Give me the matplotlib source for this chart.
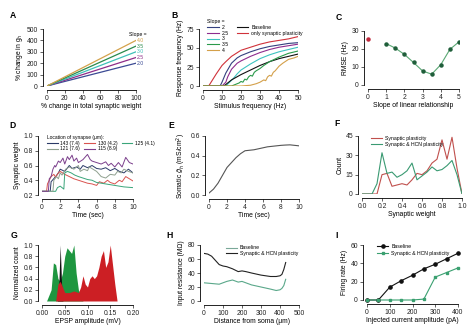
import numpy as np
import matplotlib
matplotlib.use("Agg")
import matplotlib.pyplot as plt
from matplotlib.lines import Line2D

plt.rcParams['font.family'] = ['Liberation Sans', 'DejaVu Sans']

# ---- A: % change in gh vs % change in synaptic weight
a_slopes = ['2.0', '2.5', '3.0', '3.5', '4.0']
a_x = [0, 100]
a_end = [200, 250, 300, 350, 400]
a_colors = ['#3b4a94', '#8e2c88', '#3fc0b8', '#2a8a4c', '#d4a24c']

# ---- B: response vs stimulus frequency
b_series = {
    'only synaptic plasticity': ([0, 3, 5, 7, 10, 12, 15, 20, 25, 30, 35, 40, 45, 50],
                                 [0, 0, 8, 16, 27, 32, 39, 47, 51, 55, 58, 60, 62, 65]),
    '2': ([0, 9, 10, 12, 15, 18, 20, 25, 30, 35, 40, 45, 50],
          [0, 0, 5, 17, 30, 37, 40, 45, 49, 52, 54, 56, 57]),
    '2.5': ([0, 10, 12, 13, 15, 18, 20, 25, 30, 35, 40, 45, 50],
            [0, 0, 5, 12, 22, 30, 33, 39, 44, 48, 51, 53, 55]),
    '3': ([0, 12, 14, 16, 18, 20, 25, 30, 35, 40, 45, 50],
          [0, 0, 5, 10, 16, 21, 29, 36, 41, 45, 48, 51]),
    'Baseline': ([0, 11, 13, 15, 20, 25, 30, 35, 40, 45, 50],
                 [0, 0, 4, 8, 15, 21, 27, 32, 36, 39, 42]),
    '3.5': ([0, 15, 17, 19, 20, 21, 22, 23, 24, 25, 26, 27, 28, 30, 32, 35, 40, 45, 50],
            [0, 0, 2, 4, 6, 5, 9, 8, 12, 14, 13, 18, 20, 23, 27, 32, 38, 43, 46]),
    '4': ([0, 20, 25, 28, 30, 32, 33, 34, 35, 36, 37, 38, 40, 42, 45, 48, 50],
          [0, 0, 1, 3, 5, 8, 7, 12, 14, 13, 18, 20, 26, 30, 35, 37, 39]),
}
b_colors = {'2': '#34407f', '2.5': '#8e2c8e', '3': '#3cc3c0', '3.5': '#2a9a4a',
            '4': '#d4a04a', 'Baseline': '#111111', 'only synaptic plasticity': '#d0323a'}

# ---- C: RMSE vs slope
c_base_x, c_base_y = 0, 25.5
c_slopes = [1, 1.5, 2, 2.5, 3, 3.5, 4, 4.5, 5]
c_rmse = [23, 20.5, 17, 12.5, 7.8, 6, 11.3, 19.8, 24]

# ---- D: synaptic weight traces
d_labels = ['143 (7.4)', '130 (4.2)', '125 (4.1)', '121 (7.6)', '115 (8.9)']
d_colors = ['#2b3a67', '#d9534f', '#3aa57a', '#8fa08f', '#7b3f8c']
d_t = [
    [0, 0.9, 1.0, 1.5, 1.8, 2, 2.5, 3, 3.3, 3.8, 4.2, 4.5, 5, 5.5, 6, 6.5, 7, 7.5, 8, 8.5, 9, 9.5, 10],
    [0, 0.5, 0.6, 1.0, 1.3, 1.5, 1.8, 2.0, 2.5, 3, 3.5, 4, 4.5, 5, 5.5, 6, 6.3, 6.8, 7.2, 7.5, 8, 8.5, 8.8, 9.2, 9.6, 10],
    [0, 1.5, 1.7, 2.0, 2.4, 2.5, 2.8, 3.2, 3.6, 4, 4.5, 5, 5.5, 6, 6.5, 7, 7.5, 8, 8.5, 9, 10],
    [0, 1.2, 1.3, 1.6, 1.8, 2.0, 2.2, 2.6, 3.0, 3.5, 4, 4.2, 4.6, 5, 5.2, 5.6, 6, 6.5, 7, 7.5, 8, 8.3, 8.7, 9, 9.5, 10],
    [0, 0.7, 0.8, 1.0, 1.2, 1.4, 1.5, 1.8, 2.0, 2.3, 2.5, 2.8, 3.0, 3.3, 3.5, 3.8, 4.0, 4.5, 5.0, 5.3, 5.5, 6.0, 6.5, 7.0, 7.3, 7.6, 8.0, 8.4, 8.8, 9.2, 9.6, 10],
]
d_w = [
    [0.25, 0.25, 0.38, 0.45, 0.5, 0.55, 0.52, 0.6, 0.56, 0.58, 0.55, 0.6, 0.57, 0.6, 0.56, 0.55, 0.57, 0.53, 0.56, 0.52, 0.5, 0.55, 0.5],
    [0.25, 0.25, 0.35, 0.45, 0.48, 0.44, 0.5, 0.52, 0.48, 0.45, 0.42, 0.4, 0.38, 0.36, 0.35, 0.33, 0.38, 0.36, 0.4, 0.37, 0.35, 0.4, 0.38, 0.45, 0.42, 0.39],
    [0.25, 0.25, 0.3, 0.32, 0.28, 0.5, 0.52, 0.5, 0.47, 0.45, 0.43, 0.41, 0.4, 0.37, 0.36, 0.35, 0.34, 0.33, 0.32, 0.31, 0.3],
    [0.25, 0.25, 0.4, 0.45, 0.42, 0.5, 0.47, 0.55, 0.58, 0.55, 0.6, 0.52, 0.55, 0.53, 0.58, 0.55, 0.52, 0.45, 0.43, 0.48, 0.47, 0.52, 0.5, 0.55, 0.52, 0.5],
    [0.25, 0.25, 0.42, 0.45, 0.55, 0.6, 0.58, 0.66, 0.64, 0.7, 0.62, 0.72, 0.68, 0.74, 0.66, 0.7, 0.64, 0.68, 0.75, 0.68, 0.66, 0.64, 0.62, 0.65, 0.6, 0.63, 0.58, 0.64, 0.58, 0.71, 0.64, 0.62],
]

# ---- E: somatic gh over time
e_t = [0, 0.5, 1, 1.5, 2, 2.5, 3, 3.5, 4, 4.5, 5, 5.5, 6, 6.5, 7, 7.5, 8, 8.5, 9, 9.5, 10]
e_g = [0.02, 0.06, 0.12, 0.2, 0.28, 0.33, 0.38, 0.42, 0.45, 0.455, 0.46, 0.47, 0.48, 0.49, 0.495, 0.5, 0.505, 0.508, 0.51, 0.505, 0.5]

# ---- F: weight histograms
f_bins = [0, 0.05, 0.1, 0.15, 0.2, 0.25, 0.3, 0.35, 0.4, 0.45, 0.5, 0.55, 0.6, 0.65, 0.7, 0.75, 0.8, 0.85, 0.9, 0.95, 1.0]
f_syn = [0, 0, 0, 0, 15, 16, 6, 7, 8, 7, 11, 16, 15, 18, 24, 27, 42, 27, 44, 20, 0]
f_hcn = [0, 0, 0, 8, 32, 16, 17, 13, 15, 18, 24, 11, 14, 17, 21, 18, 19, 22, 26, 15, 0]

# ---- G: EPSP amplitude distributions
g_green_x = [0.01, 0.02, 0.025, 0.03, 0.035, 0.04, 0.045, 0.05, 0.055, 0.06, 0.065, 0.07, 0.075, 0.08, 0.085, 0.09]
g_green_y = [0, 0.2, 0.68, 0.65, 0.4, 0.35, 0.5, 0.8, 0.95, 0.9, 0.85, 1.0, 0.5, 0.2, 0.1, 0]
g_black_x = [0.034, 0.037, 0.04, 0.043, 0.046]
g_black_y = [0, 0.3, 1.0, 0.3, 0]
g_red_x = [0.03, 0.035, 0.04, 0.045, 0.05, 0.06, 0.07, 0.08, 0.085, 0.09, 0.095, 0.1, 0.105, 0.11,
           0.115, 0.12, 0.125, 0.13, 0.135, 0.14, 0.145, 0.15, 0.155, 0.16, 0.165]
g_red_y = [0, 0.3, 0.35, 0.25, 0.15, 0.15, 0.18, 0.15, 0.25, 0.45, 0.3, 0.25, 0.4, 0.45,
           0.4, 0.45, 0.6, 0.8, 0.9, 0.6, 0.7, 1.0, 0.65, 0.3, 0]

# ---- H: input resistance vs distance
h_x = [0, 20, 40, 60, 80, 100, 120, 150, 180, 200, 220, 250, 300, 350, 380, 400, 410, 420, 430]
h_base = [68, 67, 64, 58, 52, 50, 49, 46, 42, 43, 42, 40, 37, 35, 35, 36, 38, 45, 55]
h_hcn = [26, 25.5, 25, 24.5, 24, 26, 28, 30, 27, 28, 26, 23, 20, 17, 15, 16, 18, 22, 31]

# ---- I: f-I curves
i_x = [0, 50, 100, 150, 200, 250, 300, 350, 400]
i_base = [0, 0, 14, 21, 27, 34, 39, 45, 51]
i_hcn = [0, 0, 0, 0, 0, 1, 25, 30, 35]

W, H = 474, 327
fig = plt.figure(figsize=(W / 100, H / 100), dpi=100)
FS = 4.9
LFS = 3.7


def px_axes(l, r, t, b):
    ax = fig.add_axes([l / W, 1 - b / H, (r - l) / W, (b - t) / H])
    for s in ['top', 'right']:
        ax.spines[s].set_visible(False)
    for s in ['left', 'bottom']:
        ax.spines[s].set_position(('outward', 3))
        ax.spines[s].set_linewidth(0.6)
    ax.tick_params(length=2, width=0.5, labelsize=FS, pad=1.5, colors='#222222')
    ax.patch.set_alpha(0)
    return ax


def label(ax, xl, yl):
    ax.set_xlabel(xl, fontsize=FS, labelpad=1)
    ax.set_ylabel(yl, fontsize=FS, labelpad=1.5)


def panel(x, y, s):
    fig.text(x / W, 1 - y / H, s, fontsize=6.2, fontweight='bold', ha='center', va='center')


# A
ax = px_axes(47, 136, 29, 86)
for s, e, c in zip(a_slopes, a_end, a_colors):
    ax.plot(a_x, [0, e], color=c, lw=0.9)
    ax.text(101, e, s, color=c, fontsize=LFS, va='center', ha='left')
ax.text(92, 455, 'Slope =', fontsize=LFS, ha='left', va='center')
ax.set_xlim(0, 100)
ax.set_ylim(0, 500)
ax.set_xticks([0, 20, 40, 60, 80, 100])
ax.set_yticks([0, 100, 200, 300, 400, 500])
label(ax, '% change in total synaptic weight', '% change in g$_h$')
panel(13, 15, 'A')

# B
ax = px_axes(203, 298, 29, 86)
for k in ['only synaptic plasticity', '2', '2.5', '3', 'Baseline', '3.5', '4']:
    x, y = b_series[k]
    ax.plot(x, y, color=b_colors[k], lw=0.8)
ax.set_xlim(0, 50)
ax.set_ylim(0, 75)
ax.set_xticks([0, 10, 20, 30, 40, 50])
ax.set_yticks([0, 25, 50, 75])
label(ax, 'Stimulus frequency (Hz)', 'Response frequency (Hz)')
h1 = [Line2D([], [], color=b_colors[k], lw=0.8) for k in ['2', '2.5', '3', '3.5', '4']]
leg1 = ax.legend(h1, ['2', '2.5', '3', '3.5', '4'], title='Slope =', fontsize=LFS, title_fontsize=LFS,
                 frameon=False, loc='upper left', bbox_to_anchor=(0.02, 1.22), handlelength=2.2,
                 labelspacing=0.15, handletextpad=0.6, borderpad=0)
leg1._legend_box.align = 'left'
ax.add_artist(leg1)
h2 = [Line2D([], [], color=b_colors[k], lw=0.8) for k in ['Baseline', 'only synaptic plasticity']]
ax.legend(h2, ['Baseline', 'only synaptic plasticity'], fontsize=LFS, frameon=False, loc='upper left',
          bbox_to_anchor=(0.33, 1.12), handlelength=2.2, labelspacing=0.15, handletextpad=0.6, borderpad=0)
panel(174, 15, 'B')

# C
ax = px_axes(368, 459, 31, 85)
ax.plot(c_slopes, c_rmse, color='#5aa874', lw=0.8, marker='o', ms=2.2,
        mfc='#1f5e3a', mec='#1f5e3a', zorder=3)
ax.plot([c_base_x], [c_base_y], 'o', ms=2.2, color='#c0283c', clip_on=False, zorder=3)
ax.set_xlim(0, 5)
ax.set_ylim(0, 30)
ax.set_xticks([0, 1, 2, 3, 4, 5])
ax.set_yticks([0, 10, 20, 30])
label(ax, 'Slope of linear relationship', 'RMSE (Hz)')
panel(339, 17, 'C')

# D
ax = px_axes(42, 133, 136, 195)
for t, w, c in zip(d_t, d_w, d_colors):
    ax.plot(t, w, color=c, lw=0.7)
ax.set_xlim(0, 10)
ax.set_ylim(0.2, 1.0)
ax.set_xticks([0, 2, 4, 6, 8, 10])
ax.set_yticks([0.2, 0.4, 0.6, 0.8, 1.0])
label(ax, 'Time (sec)', 'Synaptic weight')
order = [0, 3, 1, 4, 2]
hd = [Line2D([], [], color=d_colors[i], lw=0.8) for i in order]
leg = ax.legend(hd, [d_labels[i] for i in order], ncol=3, title='Location of synapse (\u03bcm):',
                fontsize=3.5, title_fontsize=3.5, frameon=False, loc='upper left',
                bbox_to_anchor=(0.03, 1.06), handlelength=2.2, labelspacing=0.15,
                handletextpad=0.5, columnspacing=0.9, borderpad=0)
leg._legend_box.align = 'left'
panel(13, 125, 'D')

# E
ax = px_axes(209, 299, 136, 195)
ax.plot(e_t, e_g, color='#555555', lw=0.8)
ax.set_xlim(0, 10)
ax.set_ylim(0, 0.6)
ax.set_xticks([0, 2, 4, 6, 8, 10])
ax.set_yticks([0.0, 0.2, 0.4, 0.6])
label(ax, 'Time (sec)', 'Somatic $\\bar{g}_h$ (mS/cm$^2$)')
panel(171, 125, 'E')

# F
ax = px_axes(362, 462, 136, 194)
ax.plot(f_bins, f_syn, color='#c0504d', lw=0.8, label='Synaptic plasticity')
ax.plot(f_bins, f_hcn, color='#3a9a72', lw=0.8, label='Synaptic & HCN plasticity')
ax.set_xlim(0, 1)
ax.set_ylim(0, 45)
ax.set_xticks([0, 0.2, 0.4, 0.6, 0.8, 1.0])
ax.set_xticklabels(['0.0', '0.2', '0.4', '0.6', '0.8', '1.0'])
ax.set_yticks([0, 15, 30, 45])
label(ax, 'Synaptic weight', 'Count')
ax.legend(fontsize=LFS, frameon=False, loc='upper left', bbox_to_anchor=(0.06, 1.04),
          handlelength=2.2, labelspacing=0.15, handletextpad=0.6, borderpad=0)
panel(337, 124, 'F')

# G
ax = px_axes(42, 133, 245, 301)
ax.fill_between(g_green_x, g_green_y, color='#1e9640', lw=0)
ax.fill_between(g_black_x, g_black_y, color='#111111', lw=0)
ax.fill_between(g_red_x, g_red_y, color='#cc1f24', lw=0)
ax.set_xlim(0, 0.2)
ax.set_ylim(0, 1.0)
ax.set_xticks([0, 0.05, 0.1, 0.15, 0.2])
ax.set_xticklabels(['0.00', '0.05', '0.10', '0.15', '0.20'])
ax.set_yticks([0, 0.2, 0.4, 0.6, 0.8, 1.0])
label(ax, 'EPSP amplitude (mV)', 'Normalized count')
panel(14, 235, 'G')

# H
ax = px_axes(204, 299, 245, 301)
ax.plot(h_x, h_base, color='#222222', lw=0.8)
ax.plot(h_x, h_hcn, color='#5aa88a', lw=0.8)
ax.set_xlim(0, 500)
ax.set_ylim(0, 80)
ax.set_xticks([0, 100, 200, 300, 400, 500])
ax.set_yticks([0, 20, 40, 60, 80])
label(ax, 'Distance from soma (\u03bcm)', 'Input resistance (M\u03a9)')
hh = [Line2D([], [], color='#7aa898', lw=0.8), Line2D([], [], color='#222222', lw=0.8)]
ax.legend(hh, ['Baseline', 'Synaptic & HCN plasticity'], fontsize=LFS, frameon=False,
          loc='upper left', bbox_to_anchor=(0.2, 1.04), handlelength=2.2, labelspacing=0.15,
          handletextpad=0.6, borderpad=0)
panel(170, 235, 'H')

# I
ax = px_axes(367, 458, 245, 300)
ax.plot(i_x, i_base, color='#111111', lw=0.8, marker='o', ms=2.3, clip_on=False, label='Baseline', zorder=3)
ax.plot(i_x, i_hcn, color='#3aa070', lw=0.8, marker='s', ms=2.0, clip_on=False,
        label='Synaptic & HCN plasticity', zorder=3)
ax.set_xlim(0, 400)
ax.set_ylim(0, 60)
ax.set_xticks([0, 100, 200, 300, 400])
ax.set_yticks([0, 20, 40, 60])
label(ax, 'Injected current amplitude (pA)', 'Firing rate (Hz)')
ax.legend(fontsize=LFS, frameon=False, loc='upper left', bbox_to_anchor=(0.08, 1.06),
          handlelength=2.2, labelspacing=0.3, handletextpad=0.6, borderpad=0)
panel(337, 235, 'I')

fig.savefig('out.png', dpi=100)
